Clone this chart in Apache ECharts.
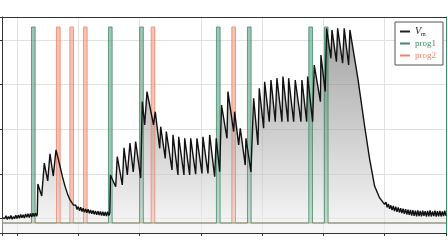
<!DOCTYPE html>
<html><head><meta charset="utf-8">
<script src="https://cdn.jsdelivr.net/npm/echarts@6/dist/echarts.min.js"></script>
<style>html,body{margin:0;padding:0;background:#fff}#c{width:448px;height:252px}</style>
</head><body><div id="c"></div>
<script>
// time axis (s) and membrane potential (mV)
const X_MIN = -2.45, X_MAX = 70;
const Y_MIN = -86.4, Y_MAX = 10.3;

const vmRest1 = [[-2.45,-79.5],[-2.4,-80.2],[-2.2,-78.9],[-2.0,-80.0],[-1.8,-78.7],[-1.6,-80.3],[-1.4,-79.0],[-1.2,-80.1],[-1.0,-78.6],[-0.8,-80.2],[-0.6,-79.1],[-0.4,-80.0],[-0.2,-78.5],[0.0,-79.9],[0.2,-78.4],[0.4,-79.8],[0.6,-78.1],[0.8,-79.6],[1.0,-78.2],[1.2,-79.7],[1.4,-77.9],[1.6,-79.4],[1.8,-77.8],[2.0,-79.5],[2.2,-77.7],[2.4,-79.2],[2.6,-77.6],[2.8,-79.0],[3.0,-77.5],[3.2,-78.9],[3.31,-78.0]];
const vmBurst1 = [[3.4,-64.5],[4.03,-69.8],[4.45,-55.1],[5.01,-63.1],[5.38,-51.0],[5.92,-60.9],[6.36,-49.2],[6.69,-52.8],[7.01,-56.4],[7.42,-61.3],[7.83,-65.4],[8.24,-68.9],[8.65,-71.6],[9.22,-73.9]];
const vmRest2 = [[9.6,-74.0],[9.8,-75.9],[10.0,-74.6],[10.2,-76.4],[10.4,-74.9],[10.6,-76.8],[10.8,-75.3],[11.0,-77.1],[11.2,-75.6],[11.4,-77.3],[11.6,-75.8],[11.8,-77.6],[12.0,-76.1],[12.2,-77.8],[12.4,-76.3],[12.6,-78.0],[12.8,-76.5],[13.0,-78.3],[13.2,-76.6],[13.4,-78.4],[13.6,-76.8],[13.8,-78.6],[14.0,-76.9],[14.2,-78.7],[14.4,-77.0],[14.6,-78.8],[14.8,-76.9],[15.0,-78.6],[15.15,-77.4]];
const vmBurst2 = [[15.25,-60.4],[16.1,-65.7],[16.36,-52.2],[17.18,-64.9],[17.46,-48.3],[18.0,-60.4],[18.43,-46.1],[18.97,-59.1],[19.36,-45.5],[20.18,-61.8]];
const vmBurst3 = [[20.44,-27.6],[20.83,-38.0],[21.21,-23.1],[22.27,-38.0],[22.56,-32.1],[23.28,-48.5],[23.44,-38.8],[24.19,-53.0],[24.36,-41.0],[25.29,-58.2],[25.45,-42.5],[26.26,-60.4],[26.38,-43.3],[27.24,-60.4],[27.36,-44.0],[28.17,-60.4],[28.34,-44.0],[29.15,-60.1],[29.36,-44.0],[30.18,-59.7],[30.34,-43.3],[31.16,-59.7],[31.44,-42.5],[32.25,-61.2],[32.51,-44.0],[33.07,-59.0]];
const vmBurst4 = [[33.37,-29.1],[34.26,-44.0],[34.42,-23.1],[35.35,-41.0],[35.51,-32.1],[36.17,-47.0],[36.43,-39.5],[37.24,-56.0],[37.36,-44.0],[38.17,-59.1]];
const vmBurst5 = [[38.61,-26.1],[39.31,-47.0],[39.53,-21.6],[40.24,-39.5],[40.41,-18.7],[41.16,-36.6],[41.44,-17.9],[42.14,-36.6],[42.41,-17.1],[43.23,-36.6],[43.39,-16.4],[44.21,-36.6],[44.32,-17.1],[45.14,-36.6],[45.40,-17.9],[46.33,-36.6],[46.49,-17.9],[47.26,-36.6],[47.42,-16.4],[48.24,-36.6],[48.5,-11.2],[49.51,-27.6],[49.59,-6.7],[50.29,-23.1]];
const vmBurst6 = [[50.52,5.2],[51.22,-8.2],[51.39,4.5],[52.12,-9.7],[52.32,5.2],[53.13,-10.4],[53.39,5.2],[54.11,-11.2],[54.32,4.5],[55.63,-17.4],[56.72,-38.5],[57.54,-53.3],[58.35,-65.4],[59.17,-70.7],[59.98,-73.6]];
const vmRest3 = [[60.2,-72.6],[60.4,-74.9],[60.6,-73.4],[60.8,-75.6],[61.0,-74.0],[61.2,-76.1],[61.4,-74.3],[61.6,-76.6],[61.8,-74.6],[62.0,-76.9],[62.2,-75.0],[62.4,-77.2],[62.6,-75.3],[62.8,-77.5],[63.0,-75.5],[63.2,-77.8],[63.4,-75.7],[63.6,-78.1],[63.8,-76.0],[64.0,-78.3],[64.2,-76.1],[64.4,-78.6],[64.6,-76.2],[64.8,-78.7],[65.0,-76.4],[65.2,-78.9],[65.4,-76.3],[65.6,-78.8],[65.8,-76.5],[66.0,-79.0],[66.2,-76.4],[66.4,-78.7],[66.6,-76.6],[66.8,-79.1],[67.0,-76.5],[67.2,-78.9],[67.4,-76.3],[67.6,-79.0],[67.8,-76.7],[68.0,-78.8],[68.2,-76.4],[68.4,-79.1],[68.6,-76.6],[68.8,-78.9],[69.0,-76.5],[69.2,-79.0],[69.4,-76.7],[69.6,-78.8],[69.8,-76.4],[70.0,-78.7]];

// stimulation programs: pulse onsets (s) and duration
const prog1Onsets = [2.36, 14.92, 20.01, 32.54, 37.60, 47.61, 50.16];
const prog2Onsets = [6.44, 8.62, 10.84, 21.89, 35.05];
const PULSE_DUR = 0.6;

const vmData = [].concat(vmRest1, vmBurst1, vmRest2, vmBurst2, vmBurst3, vmBurst4, vmBurst5, vmBurst6, vmRest3);
function pulses(onsets){
  const d = [[X_MIN,0]];
  onsets.forEach(o => { d.push([o,0],[o,1],[o+PULSE_DUR,1],[o+PULSE_DUR,0]); });
  d.push([X_MAX,0]);
  return d;
}
const prog1Data = pulses(prog1Onsets), prog2Data = pulses(prog2Onsets);

const GREEN = '#3f8c69', SALMON = '#f2846a', DARK = '#333';
const FONT = 'Liberation Serif';
const chart = echarts.init(document.getElementById('c'), null, {renderer:'canvas'});
chart.setOption({
  animation: false,
  grid: {left: 2, right: 2, top: 17, bottom: 19, show: false},
  xAxis: [
    {type:'value', min:X_MIN, max:X_MAX, minInterval:10, maxInterval:10, splitNumber:7,
     axisLine:{show:true, onZero:false, lineStyle:{color:DARK, width:1}},
     axisTick:{show:true, length:3, lineStyle:{color:DARK}}, axisLabel:{show:false},
     splitLine:{show:true, lineStyle:{color:'#e2e2e2', width:1}}},
    {type:'value', position:'top', min:X_MIN, max:X_MAX,
     axisLine:{show:true, onZero:false, lineStyle:{color:DARK, width:1}},
     axisTick:{show:false}, axisLabel:{show:false}, splitLine:{show:false}}
  ],
  yAxis: [
    {type:'value', min:Y_MIN, max:Y_MAX, minInterval:20, maxInterval:20, splitNumber:5,
     axisLine:{show:true, onZero:false, lineStyle:{color:DARK, width:1}},
     axisTick:{show:true, length:3, lineStyle:{color:DARK}}, axisLabel:{show:false},
     splitLine:{show:true, lineStyle:{color:'#e2e2e2', width:1}}},
    {type:'value', position:'right', min:-0.051, max:1.051,
     axisLine:{show:true, onZero:false, lineStyle:{color:GREEN, width:1}},
     axisTick:{show:false}, axisLabel:{show:false}, splitLine:{show:false}}
  ],
  legend: {
    orient:'vertical', left:395, top:22, padding:[4,7,4,5],
    itemWidth:10, itemHeight:2, itemGap:1, icon:'rect',
    backgroundColor:'#fff', borderColor:'#555', borderWidth:1, borderRadius:0,
    textStyle:{fontFamily:FONT, fontSize:9, lineHeight:11,
      rich:{v:{fontStyle:'italic', fontSize:10, fontFamily:FONT, color:'#222'},
            m:{fontSize:6, fontFamily:FONT, color:'#222', padding:[5,0,0,0]}}},
    formatter: n => n === 'V_m' ? '{v|V}{m|m}' : n,
    data:[{name:'V_m', itemStyle:{color:'#222'}, textStyle:{color:'#222'}},
          {name:'prog1', itemStyle:{color:GREEN}, textStyle:{color:GREEN}},
          {name:'prog2', itemStyle:{color:SALMON}, textStyle:{color:SALMON}}]
  },
  series: [
    {name:'prog2-fill', type:'line', yAxisIndex:1, data:prog2Data, showSymbol:false, z:1,
     lineStyle:{width:0, opacity:0}, areaStyle:{color:SALMON, opacity:0.5, origin:'auto'}},
    {name:'prog1-fill', type:'line', yAxisIndex:1, data:prog1Data, showSymbol:false, z:1,
     lineStyle:{width:0, opacity:0}, areaStyle:{color:GREEN, opacity:0.5, origin:'auto'}},
    {name:'V_m-fill', type:'line', data:vmData, showSymbol:false, z:2,
     lineStyle:{width:0, opacity:0},
     areaStyle:{origin:'start', color:new echarts.graphic.LinearGradient(0,0,0,1,[
       {offset:0, color:'rgba(81,81,81,0.75)'},{offset:1, color:'rgba(243,243,243,0.75)'}])}},
    {name:'prog2', type:'line', yAxisIndex:1, data:prog2Data, showSymbol:false, z:3,
     lineStyle:{width:1, color:SALMON, opacity:0.8}, itemStyle:{color:SALMON}},
    {name:'prog1', type:'line', yAxisIndex:1, data:prog1Data, showSymbol:false, z:3,
     lineStyle:{width:1, color:GREEN, opacity:0.8}, itemStyle:{color:GREEN}},
    {name:'V_m', type:'line', data:vmData, showSymbol:false, z:4,
     lineStyle:{width:1.4, color:'#111'}, itemStyle:{color:'#111'}}
  ]
});
</script></body></html>
